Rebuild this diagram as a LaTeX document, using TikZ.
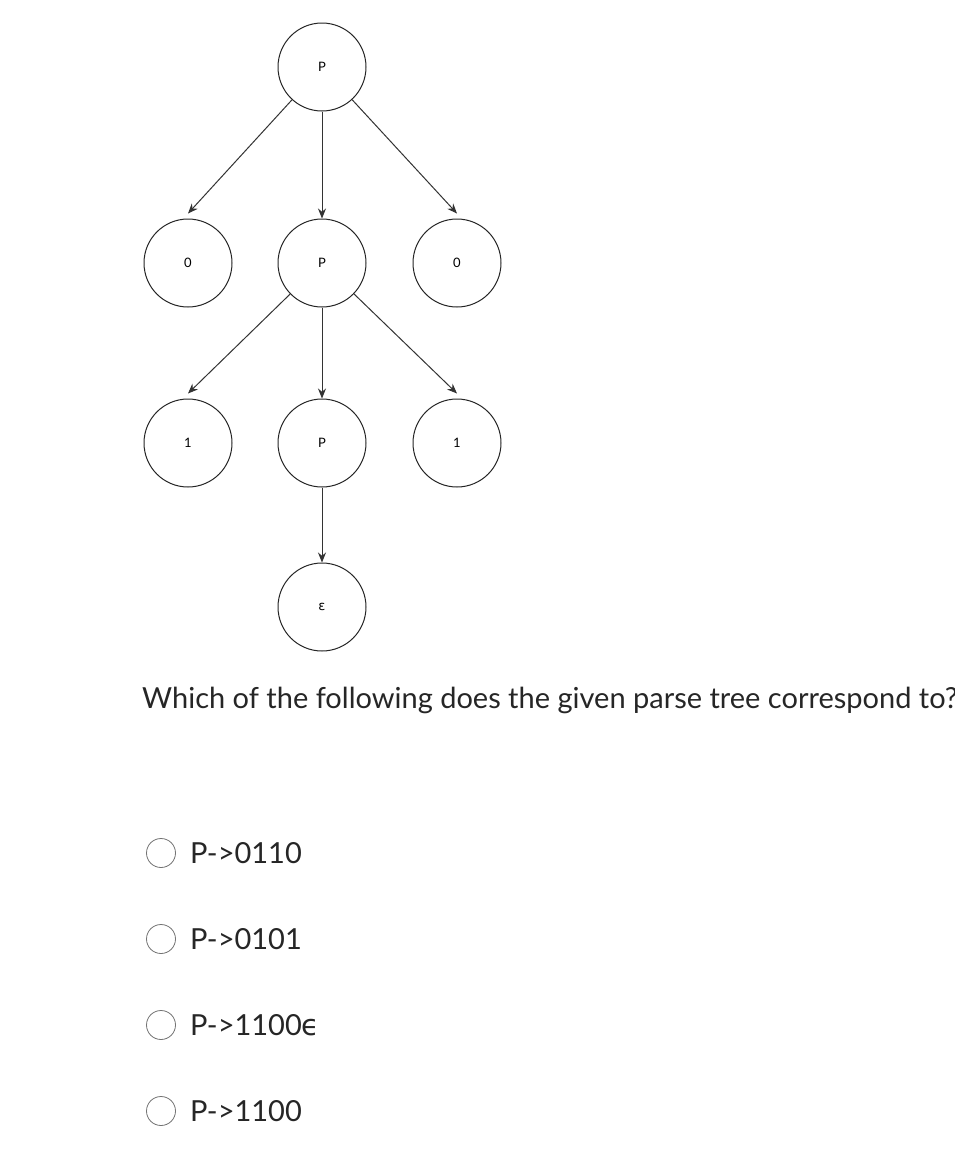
\documentclass[tikz,border=0pt]{standalone}
\usepackage{fontspec}
\setmainfont{Lato}
\newfontfamily\dv{DejaVu Sans}
\usetikzlibrary{arrows.meta}
\begin{document}
\begin{tikzpicture}[x=1pt,y=-1pt,
  tn/.style={circle,draw=black!85,line width=1pt,minimum size=88pt,inner sep=0pt,font=\fontsize{13}{15}\selectfont},
  ed/.style={draw=black!80,line width=1pt,-{Stealth[length=10pt,width=8pt]}},
  radio/.style={circle,draw=black!55,line width=0.8pt,minimum size=29pt,inner sep=0pt},
  opt/.style={anchor=west,font=\fontsize{29}{33}\selectfont,text=black!85}]
\useasboundingbox (0,0) rectangle (954,1171);
\clip (0,0) rectangle (954,1171);
\fill[white] (0,0) rectangle (954,1171);
\node[tn] (r) at (322,67) {P};
\node[tn] (a0) at (188,263) {0};
\node[tn] (p1) at (322,263) {P};
\node[tn] (b0) at (457,263) {0};
\node[tn] (a1) at (188,443) {1};
\node[tn] (p2) at (322,443) {P};
\node[tn] (b1) at (457,443) {1};
\node[tn] (e) at (322,607) {\dv ε};
\draw[ed] (r) -- ([yshift=5pt]a0.north); \draw[ed] (r) -- (p1); \draw[ed] (r) -- ([yshift=5pt]b0.north);
\draw[ed] (p1) -- ([yshift=5pt]a1.north); \draw[ed] (p1) -- (p2); \draw[ed] (p1) -- ([yshift=5pt]b1.north);
\draw[ed] (p2) -- (e);
\node[anchor=west,font=\fontsize{29}{33}\selectfont,text=black!85,inner sep=0pt] (q) at (142,700) {Which of the following does the given parse tree correspond to?};
\foreach \i/\y/\t in {1/853/P->0110,2/939/P->0101,3/1025/P->1100\dv{ϵ},4/1111/P->1100}{
  \node[radio] (c\i) at (161,\y) {};
  \node[opt,inner sep=0pt] (o\i) at (190,\y) {\t};
}
\end{tikzpicture}
\end{document}
